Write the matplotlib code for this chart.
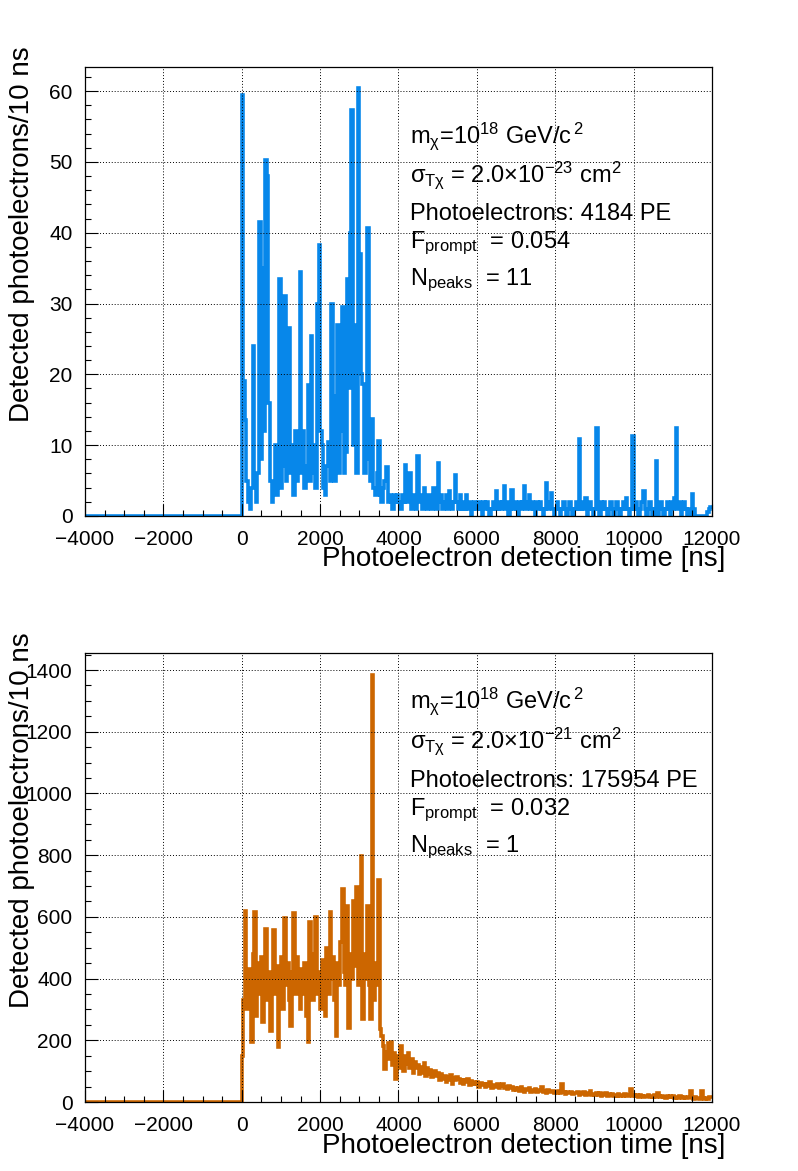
import matplotlib
matplotlib.use('Agg')
import matplotlib.pyplot as plt
from matplotlib.ticker import MultipleLocator

plt.rcParams['font.family'] = ['Liberation Sans', 'DejaVu Sans']
plt.rcParams['mathtext.fontset'] = 'custom'
plt.rcParams['mathtext.rm'] = 'Liberation Sans'
plt.rcParams['mathtext.it'] = 'Liberation Sans'
plt.rcParams['mathtext.bf'] = 'Liberation Sans'

# 40 ns wide bins from 0 to 12000 ns (one row = 1000 ns), before 0 everything is empty
bin_width = 40
t_start, t_end = -4000, 12000

pe_low = [
    59.4, 19, 13.5, 5, 2, 1, 4, 24, 5, 2, 6, 41.5, 8, 35, 12, 50.3, 48, 16, 5, 2, 4, 10, 3, 6, 33.5,
    4, 7, 31, 5, 8, 26.5, 6, 10, 3, 12, 5, 9, 34.5, 6, 12, 4, 7, 18.5, 5, 25.4, 6, 10, 4, 30, 38.3,
    12, 10, 4, 3, 7, 10.5, 5, 30, 17, 5, 8, 27, 6, 12, 29.5, 6, 9, 33.5, 18, 40, 57.3, 10, 27, 6, 60.4,
    37, 20, 18.6, 6, 12, 40.7, 8, 5, 13.7, 4, 3, 6, 10.6, 3, 2, 4, 5, 6.9, 2, 3, 2, 1, 3, 2, 3,
    2, 1, 3, 2, 7.2, 2, 3, 6, 1, 2, 3, 1, 8.5, 2, 3, 1, 4, 2, 1, 3, 2, 1, 4, 2, 1,
    7.5, 2, 3, 1, 2, 3, 1, 3.5, 2, 1, 2, 5.8, 2, 1, 3, 1, 2, 1, 3, 1, 2, 0, 1, 2, 1,
    1, 2, 1, 0, 2, 1, 2, 1, 0, 1, 2, 1, 3.5, 1, 2, 1, 2, 4.2, 1, 2, 0, 1, 3.7, 1, 2,
    1, 0, 2, 1, 2, 4.2, 1, 2, 3, 1, 2, 1, 0, 2, 1, 2, 1, 0, 1, 4.6, 1, 2, 3.3, 1, 0,
    1, 2, 1, 0, 1, 2, 1, 0, 1, 2, 1, 0, 1, 2, 1, 10.8, 1, 2, 1, 2.5, 0, 1, 2, 1, 0,
    1, 12.4, 1, 0, 2, 1, 2, 1, 0, 1, 2, 1, 0, 1, 2, 1, 0, 1, 2, 1, 2.5, 1, 0, 1, 11.3,
    1, 2, 1, 0, 1, 2, 3.5, 1, 0, 1, 2, 1, 0, 1, 7.8, 0, 1, 2, 1, 0, 1, 2, 1, 0, 2,
    1, 2.5, 12.4, 1, 2, 0, 1, 2, 1, 0, 1, 0, 3.1, 1, 0, 0, 0, 0, 0, 0, 0, 0, 0.5, 1, 1.3,
]

pe_high = [
    150, 330, 618, 300, 430, 370, 194, 480, 615, 280, 450, 350, 470, 260, 400, 560, 330, 420, 230, 380, 557, 350, 440, 178, 400,
    470, 300, 598, 380, 450, 330, 248, 420, 612, 350, 470, 380, 300, 430, 350, 450, 280, 194, 582, 400, 330, 480, 600, 350, 420,
    300, 460, 380, 280, 500, 350, 615, 400, 470, 330, 215, 450, 380, 520, 689, 420, 380, 635, 240, 480, 400, 650, 440, 697, 380,
    500, 797, 270, 480, 400, 635, 380, 270, 1385, 330, 450, 380, 720, 236, 214, 180, 107, 162, 190, 140, 194, 120, 160, 74, 150,
    110, 180, 130, 100, 150, 124, 160, 110, 140, 95, 130, 110, 120, 90, 115, 95, 125, 85, 110, 90, 105, 80, 100, 102, 85,
    95, 70, 90, 75, 85, 65, 80, 72, 88, 60, 78, 70, 82, 75, 62, 72, 58, 70, 64, 76, 55, 68, 60, 65, 58,
    66, 50, 62, 54, 60, 48, 58, 52, 64, 45, 55, 50, 48, 58, 44, 52, 60, 46, 50, 42, 52, 45, 48, 40, 46,
    38, 44, 36, 48, 40, 34, 42, 38, 45, 33, 40, 36, 42, 32, 38, 35, 48, 34, 36, 30, 38, 34, 32, 36, 30,
    34, 28, 36, 30, 58, 32, 26, 34, 30, 28, 33, 25, 30, 28, 32, 24, 30, 27, 31, 24, 28, 26, 36, 24, 27,
    22, 28, 24, 30, 21, 26, 23, 28, 20, 25, 22, 27, 19, 24, 21, 26, 20, 23, 18, 25, 21, 19, 23, 43, 20,
    24, 18, 22, 17, 23, 19, 16, 21, 18, 24, 15, 20, 17, 22, 16, 30, 18, 15, 20, 17, 14, 19, 16, 18, 15,
    19, 14, 17, 13, 18, 15, 12, 16, 14, 12, 17, 36, 13, 11, 15, 12, 14, 10, 37, 12, 10, 13, 9, 15, 15,
]

panels = [
    dict(vals=pe_low, color='#0787ea', ymax=63.4, ymaj=10, ymin=2,
         lines=[r'm$_{\chi}$=10$^{18}$ GeV/c$^{\,2}$',
                r'$\sigma_{\mathrm{T}\chi}$ = 2.0$\times$10$^{-23}$ cm$^{2}$',
                'Photoelectrons: 4184 PE',
                r'F$_{\mathrm{prompt}}$  = 0.054',
                r'N$_{\mathrm{peaks}}$  = 11']),
    dict(vals=pe_high, color='#cc6600', ymax=1455, ymaj=200, ymin=50,
         lines=[r'm$_{\chi}$=10$^{18}$ GeV/c$^{\,2}$',
                r'$\sigma_{\mathrm{T}\chi}$ = 2.0$\times$10$^{-21}$ cm$^{2}$',
                'Photoelectrons: 175954 PE',
                r'F$_{\mathrm{prompt}}$  = 0.032',
                r'N$_{\mathrm{peaks}}$  = 1']),
]

fig = plt.figure(figsize=(7.98, 11.71), dpi=100)
boxes = [[0.1065, 0.5594, 0.7857, 0.3834], [0.1065, 0.0589, 0.7857, 0.3834]]
text_y = [[0.830, 0.7445, 0.659, 0.596, 0.5145], [0.877, 0.788, 0.702, 0.639, 0.5575]]

for box, p, ty in zip(boxes, panels, text_y):
    ax = fig.add_axes(box)
    edges = [t_start] + [i * bin_width for i in range(len(p['vals']) + 1)]
    ax.stairs([0] + p['vals'], edges, color=p['color'], lw=2.6, baseline=None)
    ax.set_xlim(t_start, t_end)
    ax.set_ylim(0, p['ymax'])
    ax.xaxis.set_major_locator(MultipleLocator(2000))
    ax.xaxis.set_minor_locator(MultipleLocator(500))
    ax.yaxis.set_major_locator(MultipleLocator(p['ymaj']))
    ax.yaxis.set_minor_locator(MultipleLocator(p['ymin']))
    ax.tick_params(which='both', direction='in', top=False, right=False, width=0.8)
    ax.tick_params(which='major', length=9, labelsize=15)
    ax.tick_params(which='minor', length=4.5)
    ax.tick_params(axis='x', pad=10)
    ax.tick_params(axis='y', pad=9)
    ax.grid(True, which='major', color='black', linestyle=(0, (1, 2)), lw=0.7)
    for s in ax.spines.values():
        s.set_linewidth(0.9)

    ax.set_xlabel('Photoelectron detection time [ns]', fontsize=20, ha='right', va='center')
    ax.xaxis.set_label_coords(1.021, -0.097)
    ax.set_ylabel('Detected photoelectrons/10 ns', fontsize=20, ha='right', va='center')
    ax.yaxis.set_label_coords(-0.1005, 1.045)

    for line, y in zip(p['lines'], ty):
        ax.text(0.518, y, line, transform=ax.transAxes, fontsize=17, va='baseline', ha='left')

fig.savefig('out.png', dpi=100)
